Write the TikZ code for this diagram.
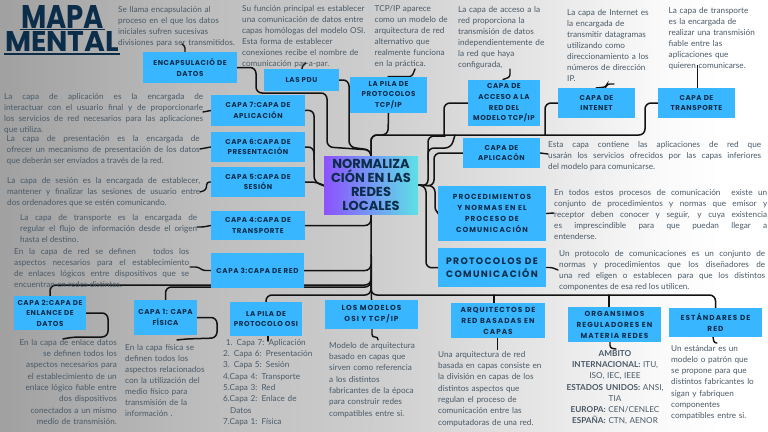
\documentclass[tikz,border=0pt]{standalone}
\usepackage{graphicx}
\usepackage{fontspec}
\setmainfont{Lato}
\newfontfamily\hdA[LetterSpace=8]{Poppins}
\newfontfamily\hdB[LetterSpace=14]{Poppins}
\newfontfamily\ttl{Poppins}
\usetikzlibrary{calc}
\definecolor{boxblue}{HTML}{38B6FF}
\definecolor{navy}{HTML}{0B2D4A}
\definecolor{bodyc}{HTML}{4A5A68}
\definecolor{linec}{HTML}{121212}
\definecolor{purp}{HTML}{8C52FF}
\definecolor{cyanc}{HTML}{5CE1E6}
\pgfdeclarelayer{bg}\pgfdeclarelayer{lines}
\pgfsetlayers{bg,lines,main}
\pgfdeclarehorizontalshading{bgh}{100bp}{%
  color(0bp)=(black!37); color(25bp)=(black!37); color(38bp)=(black!26);
  color(50bp)=(black!19); color(60bp)=(black!10); color(68bp)=(black!2); color(72bp)=(white); color(100bp)=(white)}
\tikzset{
  x=1pt,y=-1pt,
  conn/.style={draw=linec,line width=1.5pt,rounded corners=6pt,line cap=round},
  stub/.style={draw=linec,line width=1.4pt,rounded corners=2.5pt,line cap=round},
  fine/.style={draw=linec,line width=.7pt},
  tx/.style={inner sep=0,anchor=north west,text width=#1,text=bodyc,align=left,yshift=-2.5pt,
    font=\fontsize{8.2}{11}\selectfont},
  txj/.style={inner sep=0,anchor=north west,text width=#1,text=bodyc,align=justify,yshift=-2.5pt,
    font=\fontsize{8.2}{11}\selectfont},
  txr/.style={inner sep=0,anchor=north east,text width=#1,text=bodyc,align=right,yshift=-2.5pt,
    font=\fontsize{8.2}{11.3}\selectfont},
  txc/.style={inner sep=0,anchor=north,text width=#1,text=bodyc,align=center,yshift=-2.5pt,
    font=\fontsize{8.2}{11.3}\selectfont},
}
\newcommand{\ha}{\fontsize{7.1}{10.6}\selectfont\hdA\bfseries}
\newcommand{\hb}{\fontsize{7.3}{11}\selectfont\hdB\bfseries}
\newcommand{\hc}{\fontsize{9.3}{13}\selectfont\hdB\bfseries}
\newcommand{\boxat}[7][\ha]{% font name x1 y1 x2 y2 text
  \path[fill=boxblue] (#3,#4) rectangle (#5,#6);
  \node[inner sep=0,align=center,text=navy,font=#1] (#2) at ({(#3+#5)/2},{(#4+#6)/2}) [minimum width={(#5-#3)*1pt},minimum height={(#6-#4)*1pt}] {#7};}
\begin{document}
\begin{tikzpicture}
\useasboundingbox (0,0) rectangle (768,431);
\begin{pgfonlayer}{bg}
\shade[shading=bgh] (0,0) rectangle (768,431);
\end{pgfonlayer}

% title
\node[inner sep=0,anchor=north west,text=navy] (tA) at (21,5) {\resizebox{83pt}{23pt}{\ttl\bfseries MAPA}};
\node[inner sep=0,anchor=north west,text=navy] (tB) at (5,31) {\resizebox{114pt}{20pt}{\ttl\bfseries MENTAL}};

% centre
\shade[left color=purp,right color=cyanc] (324,156) rectangle (418,214);
\node[inner sep=0,minimum width=94pt,minimum height=58pt,align=center,text=navy,
  font=\fontsize{13}{14}\selectfont\ttl\bfseries] (center) at (371,185)
 {NORMALIZA\\CIÓN EN LAS\\REDES\\LOCALES};

% boxes
\boxat{enc}{143}{52}{237}{83}{ENCAPSULACIÓ DE\\DATOS}
\boxat{pdu}{264}{69}{339}{91}{LAS PDU}
\boxat{ptcp}{350}{77}{427}{113}{LA PILA DE\\PROTOCOLOS\\TCP/IP}
\boxat{acc}{468}{80}{540}{126}{CAPA DE\\ACCESO A LA\\RED DEL\\MODELO TCP/IP}
\boxat{inte}{558}{88}{635}{118}{CAPA DE\\INTENET}
\boxat{tra}{658}{88}{735}{118}{CAPA DE\\TRANSPORTE}
\boxat{apl}{463}{138}{540}{168}{CAPA DE\\APLICACÓN}
\boxat[\hb]{proc}{438}{186}{546}{241}{PROCEDIMIENTOS\\Y NORMAS EN EL\\PROCESO DE\\COMUNICACIÓN}
\boxat[\hc]{prot}{438}{248}{546}{287}{PROTOCOLOS DE\\COMUNICACIÓN}
\boxat{cs}{211}{95}{305}{126}{CAPA 7:CAPA DE\\APLICACIÓN}
\boxat{cf}{211}{132}{305}{162}{CAPA 6:CAPA DE\\PRESENTACIÓN}
\boxat{cv}{211}{167}{305}{197}{CAPA 5:CAPA DE\\SESIÓN}
\boxat{cc}{211}{211}{305}{240}{CAPA 4:CAPA DE\\TRANSPORTE}
\boxat{ct}{211}{253}{304}{288}{CAPA 3:CAPA DE RED}
\boxat{cd}{14}{296}{86}{330}{CAPA 2:CAPA DE\\ENLANCE DE\\DATOS}
\boxat{cu}{134}{300}{197}{335}{CAPA 1: CAPA\\FÍSICA}
\boxat{osi}{230}{302}{302}{336}{LA PILA DE\\PROTOCOLO OSI}
\boxat[\hb]{mod}{325}{300}{418}{329}{LOS MODELOS\\OSI Y TCP/IP}
\boxat[\hb]{arq}{451}{303}{545}{338}{ARQUITECTOS DE\\RED BASADAS EN\\CAPAS}
\boxat[\hb]{org}{568}{307}{661}{342}{ORGANSIMOS\\REGULADORES EN\\MATERIA REDES}
\boxat[\hb]{est}{669}{308}{762}{337}{ESTÁNDARES DE\\RED}

% texts
\node[tx=125pt] (tenc) at (118,3.5) {Se llama encapsulación al\\proceso en el que los datos\\iniciales sufren sucesivas\\divisiones para ser transmitidos.};
\node[tx=130pt] (tpdu) at (242,2.5) {Su función principal es establecer\\una comunicación de datos entre\\capas homólogas del modelo OSI.\\Esta forma de  establecer\\conexiones recibe el nombre de\\comunicación par-a-par.};
\node[tx=80pt] (ttcp) at (374.5,2.5) {TCP/IP aparece\\como un modelo de\\arquitectura de red\\alternativo que\\realmente funciona\\en la práctica.};
\node[tx=100pt] (tacc) at (458,3.5) {La capa de acceso a la\\red proporciona la\\transmisión de datos\\independientemente de\\la red que haya\\configurada,};
\node[tx=97pt] (tint) at (567,6.5) {La capa de Internet es\\la encargada de\\transmitir datagramas\\utilizando como\\direccionamiento a los\\números de dirección\\IP.};
\node[tx=97pt] (ttra) at (668.5,4.5) {La capa de transporte\\es la encargada de\\realizar una transmisión\\fiable entre las\\aplicaciones que\\quieren comunicarse.};

\node[txj=199pt] (ts) at (4,90.5) {La capa de aplicación es la encargada de\linebreak interactuar con el usuario final y de proporcionarle\linebreak los servicios de red necesarios para las aplicaciones\linebreak que utiliza.};
\node[txj=193pt] (tf) at (6.5,132.5) {La capa de presentación es la encargada de\linebreak ofrecer un mecanismo de presentación de los datos\linebreak que deberán ser enviados a través de la red.};
\node[txj=193pt] (tv) at (7,174.5) {La capa de sesión es la encargada de establecer,\linebreak mantener y finalizar las sesiones de usuario entre\linebreak dos ordenadores que se estén comunicando.};
\node[txj=177pt] (tc) at (20,211.5) {La capa de transporte es la encargada de\linebreak regular el flujo de información desde el origen\linebreak hasta el destino.};
\node[txj=175pt] (tt) at (14,245.5) {En la capa de red se definen \ \ todos los\linebreak aspectos necesarios para el establecimiento\linebreak de enlaces lógicos entre dispositivos que se\linebreak encuentran en redes distintas.};

\node[txj=213pt] (tapl) at (548,138.5) {Esta capa contiene las aplicaciones de red que\linebreak usarán los servicios ofrecidos por las capas inferiores\linebreak del modelo para comunicarse.};
\node[txj=213pt] (tproc) at (554,186.5) {En todos estos procesos de comunicación \ existe un\linebreak conjunto de procedimientos y normas que emisor y\linebreak receptor deben conocer y seguir, y cuya existencia\linebreak es imprescindible para que puedan llegar a\linebreak entenderse.};
\node[txj=206pt] (tprot) at (559,247.5) {Un protocolo de comunicaciones es un conjunto de\linebreak normas y procedimientos que los diseñadores de\linebreak una red eligen o establecen para que los distintos\linebreak componentes de esa red los utilicen.};

\node[txr=112pt] (td) at (117,336.5) {En la capa de enlace datos\\se definen todos los\\aspectos necesarios para\\el establecimiento de un\\enlace lógico fiable entre\\dos dispositivos\\conectados a un mismo\\medio de transmisión.};
\node[tx=92pt] (tu) at (125,341.5) {En la capa física se\\definen todos los\\aspectos relacionados\\con  la utilización del\\medio físico para\\transmisión de la\\información .};
\node[tx=100pt,font=\fontsize{8.2}{11.3}\selectfont] (tosi) at (223,336.5) {\ 1. Capa 7: Aplicación\\2. Capa 6: Presentación\\3. Capa 5: Sesión\\4.Capa 4: Transporte\\5.Capa 3: Red\\6.Capa 2: Enlace de\\\hspace*{7pt}Datos\\7.Capa 1: Física};
\node[tx=100pt,font=\fontsize{8.2}{11.3}\selectfont] (tmod) at (329,339.5) {Modelo de arquitectura\\basado en capas que\\sirven como referencia\\a los distintos\\fabricantes de la época\\para construir redes\\compatibles entre si.};
\node[tx=120pt,font=\fontsize{8.2}{11.3}\selectfont] (tarq) at (438,348.5) {Una arquitectura de red\\basada en capas consiste en\\la división en capas de los\\distintos aspectos que\\regulan el proceso de\\comunicación entre las\\computadoras de una red.};
\node[txc=105pt] (torg) at (615,347.5) {\textbf{AMBITO}\\\textbf{INTERNACIONAL:} ITU,\\ISO, IEC, IEEE\\\textbf{ESTADOS UNIDOS:} ANSI,\\TIA\\\textbf{EUROPA:} CEN/CENLEC\\\textbf{ESPAÑA:} CTN, AENOR};
\node[tx=96pt,font=\fontsize{8.2}{11.2}\selectfont] (test) at (671,342.5) {Un estándar es un\\modelo o patrón que\\se propone para que\\distintos fabricantes lo\\sigan y fabriquen\\componentes\\compatibles entre si.};

% free ends of the short connectors
\coordinate (eenc) at (182,44);
\coordinate (epdu) at (306,63);
\coordinate (etcp) at (415,69);
\coordinate (eacc) at (510,69);
\coordinate (eint) at (614,84);
\coordinate (etra) at (697,65);
\coordinate (es) at (203,112);
\coordinate (ef) at (200,149);
\coordinate (ev) at (200,192);
\coordinate (ec) at (197,227);
\coordinate (et) at (190,267);
\coordinate (eapl) at (548,154);
\coordinate (eproc) at (554,213);
\coordinate (eprot) at (558,270);
\coordinate (ed) at (63,339);
\coordinate (eu) at (177,340);
\coordinate (eosi) at (268,341);
\coordinate (emod) at (378,340);
\coordinate (earq) at (497,350);
\coordinate (eorg) at (616,349);
\coordinate (eest) at (717,343);

\begin{pgfonlayer}{lines}
% title rules
\draw[draw=navy,line width=1pt] ($(tA.south west)+(-1,1)$) -- ($(tA.south east)+(1,1)$);
\draw[draw=navy,line width=2pt] ($(tB.south west)+(-1,3)$) -- ($(tB.south east)+(1,3)$);
% upper branches
\draw[conn] (enc.east) -- (256,67.5) -- (256,93) -- (327,93) -- (327,147) -- (371,150) -- (center.north);
\draw[conn] (pdu.east) -- (349,80) -- (349,147) -- (371,150) -- (center.north);
\draw[conn] (ptcp.south) -- (388,135) -- (371,135) -- (center.north);
\draw[conn] (center.north) -- (371,135) -- (645,135) -- (645,103) -- (tra.west);
\draw[conn] (444,135) -- (444,103) -- (acc.west);
\draw[conn] (545,135) -- (545,103) -- (inte.west);
% right branches
\draw[conn] (center.east) -- (428,186) -- (428,136) -- (445,136);
\draw[conn] (428,160) -- (428,148) -- (451,148) -- (455,135);
\draw[conn] (center.east) -- (434,186) -- (434,153) -- (apl.west);
\draw[conn] (center.east) -- (435,186) -- (435,213) -- (proc.west);
\draw[conn] (center.east) -- (426,186) -- (426,268) -- (prot.west);
% left branches
\draw[conn] (cs.east) -- (314,110) -- (314,182) -- (327,187);
\draw[conn] (cf.east) -- (314,147) -- (314,160);
\draw[conn] (cv.east) -- (317,182) -- (327,187);
% spine
\draw[conn] (center.south) -- (mod.north);
\draw[conn] (cc.east) -- (371,225.5) -- (371,210);
\draw[conn] (ct.east) -- (371,270.5) -- (371,255);
\draw[conn] (cd.north) -- (50,285) -- (371,285) -- (371,268);
\draw[conn] (cu.north) -- (165.5,287) -- (371,287) -- (371,270);
\draw[conn] (osi.north) -- (266,295) -- (371,295) -- (371,278);
\draw[conn] (371,278) -- (371,295) -- (715.5,295) -- (est.north);
\draw[conn] (494,295) -- (494,303);
\draw[conn] (609,295) -- (609,307);
% short connectors
\draw[stub] (185,52) -- (185,46) -- (eenc);
\draw[stub] (302,69) -- (302,66) -- (epdu);
\draw[stub] (388,76.5) -- (412,76.5) -- (etcp);
\draw[stub] (503,79.5) -- (510,77) -- (eacc);
\draw[stub] (596,88) -- (606,87) -- (607,84) -- (eint);
\draw[fine] (697,87.5) -- (etra);
\draw[stub] (cs.west) -- (es);
\draw[stub] (cf.west) -- (ef);
\draw[stub] (cv.west) -- (207,182) -- (206,190) -- (ev);
\draw[stub] (cc.west) -- (203,227) -- (ec);
\draw[stub] (ct.west) -- (203,270.5) -- (198,267) -- (et);
\draw[stub] (apl.east) -- (eapl);
\draw[stub] (proc.east) -- (eproc);
\draw[stub] (prot.east) -- (552,267.5) -- (eprot);
\draw[conn] (cd.east) -- (108,313) -- (108,337) -- (73,337) -- (ed);
\draw[conn] (cu.east) -- (217,317.5) -- (217,338) -- (185,339) -- (eu);
\draw[stub] (268,336) -- (eosi);
\draw[stub] (372,329) -- (372,337) -- (378,337) -- (emod);
\draw[fine] (497,338) -- (earq);
\draw[stub] (610,342) -- (610,348) -- (eorg);
\draw[stub] (713,337) -- (714,343) -- (eest);
\end{pgfonlayer}
\end{tikzpicture}
\end{document}
